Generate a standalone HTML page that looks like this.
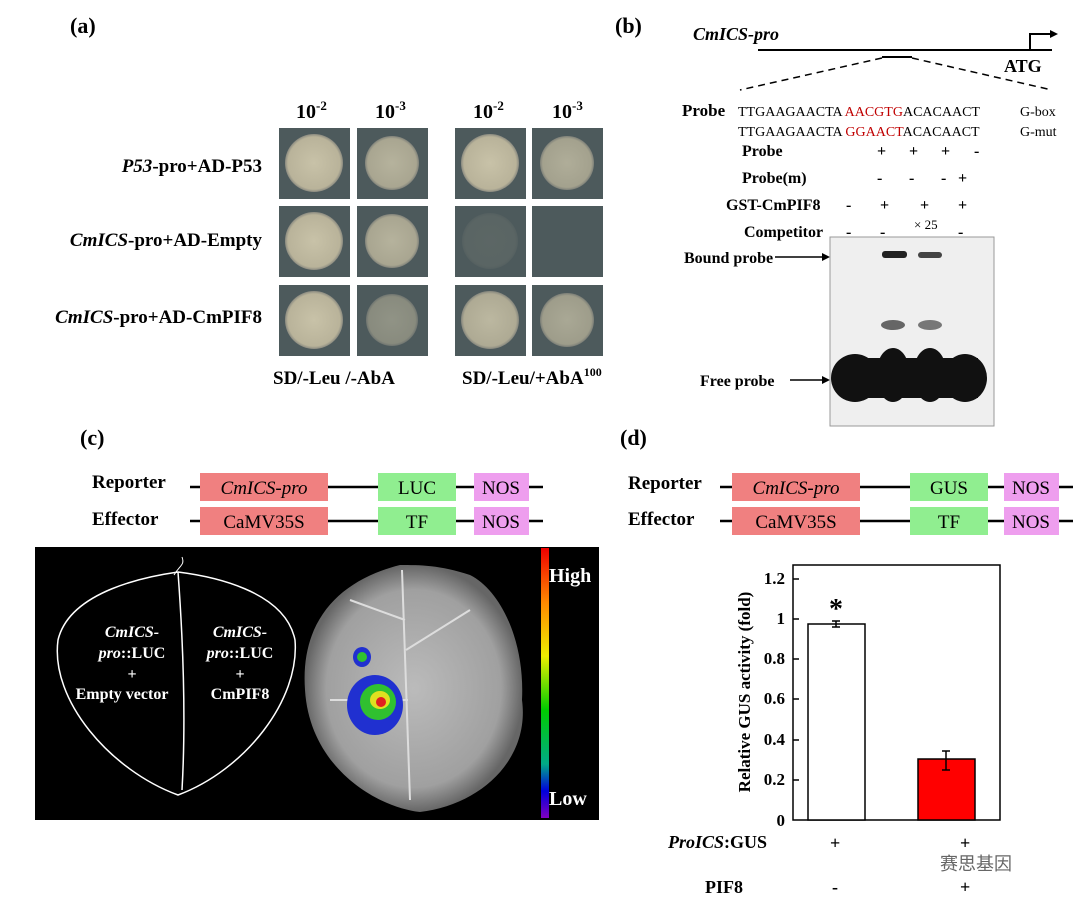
<!DOCTYPE html>
<html><head><meta charset="utf-8"><style>
body{margin:0;background:#fff}
svg{display:block}
text{font-family:"Liberation Serif",serif;font-weight:bold;fill:#000}
.w{fill:#fff}
</style></head><body>
<svg width="1080" height="912" viewBox="0 0 1080 912" xmlns="http://www.w3.org/2000/svg">
<defs>
<linearGradient id="cb" x1="0" y1="0" x2="0" y2="1">
<stop offset="0" stop-color="#e00"/><stop offset="0.2" stop-color="#f80"/><stop offset="0.4" stop-color="#ee0"/><stop offset="0.6" stop-color="#0c0"/><stop offset="0.8" stop-color="#0a8"/><stop offset="0.9" stop-color="#00d"/><stop offset="1" stop-color="#8000c0"/>
</linearGradient>
<radialGradient id="sp" cx="0.5" cy="0.5" r="0.5"><stop offset="0" stop-color="#c8c2a8"/><stop offset="0.9" stop-color="#b9b39a"/><stop offset="1" stop-color="#8a8a80"/></radialGradient>
<radialGradient id="lf" cx="0.5" cy="0.5" r="0.5"><stop offset="0" stop-color="#bbb"/><stop offset="0.8" stop-color="#a0a0a0"/><stop offset="1" stop-color="#666"/></radialGradient>
</defs>
<!-- panel a -->
<text x="70" y="33" font-size="22">(a)</text>
<g font-size="20"><text x="296" y="118">10<tspan font-size="13" dy="-8">-2</tspan></text>
<text x="375" y="118">10<tspan font-size="13" dy="-8">-3</tspan></text>
<text x="473" y="118">10<tspan font-size="13" dy="-8">-2</tspan></text>
<text x="552" y="118">10<tspan font-size="13" dy="-8">-3</tspan></text></g>
<g font-size="19" text-anchor="end">
<text x="262" y="172"><tspan font-style="italic">P53</tspan>-pro+AD-P53</text>
<text x="262" y="246"><tspan font-style="italic">CmICS</tspan>-pro+AD-Empty</text>
<text x="262" y="323"><tspan font-style="italic">CmICS</tspan>-pro+AD-CmPIF8</text></g>
<g fill="#4d5a5c">
<rect x="279" y="128" width="71" height="71"/><rect x="357" y="128" width="71" height="71"/><rect x="455" y="128" width="71" height="71"/><rect x="532" y="128" width="71" height="71"/>
<rect x="279" y="206" width="71" height="71"/><rect x="357" y="206" width="71" height="71"/><rect x="455" y="206" width="71" height="71"/><rect x="532" y="206" width="71" height="71"/>
<rect x="279" y="285" width="71" height="71"/><rect x="357" y="285" width="71" height="71"/><rect x="455" y="285" width="71" height="71"/><rect x="532" y="285" width="71" height="71"/>
</g>
<g fill="url(#sp)">
<circle cx="314" cy="163" r="29"/><circle cx="392" cy="163" r="27" opacity="0.85"/><circle cx="490" cy="163" r="29"/><circle cx="567" cy="163" r="27" opacity="0.8"/>
<circle cx="314" cy="241" r="29"/><circle cx="392" cy="241" r="27" opacity="0.85"/><circle cx="490" cy="241" r="28" opacity="0.12"/>
<circle cx="314" cy="320" r="29"/><circle cx="392" cy="320" r="26" opacity="0.55"/><circle cx="490" cy="320" r="29" opacity="0.9"/><circle cx="567" cy="320" r="27" opacity="0.75"/>
</g>
<text x="273" y="384" font-size="19">SD/-Leu /-AbA</text>
<text x="462" y="384" font-size="19">SD/-Leu/+AbA<tspan font-size="12" dy="-8">100</tspan></text>
<!-- panel b -->
<text x="615" y="33" font-size="22">(b)</text>
<text x="693" y="40" font-size="18" font-style="italic">CmICS-pro</text>
<line x1="758" y1="50" x2="1052" y2="50" stroke="#000" stroke-width="2"/>
<line x1="882" y1="57" x2="912" y2="57" stroke="#000" stroke-width="2"/>
<path d="M1030 50 V34 H1052" fill="none" stroke="#000" stroke-width="2"/><path d="M1050 30 L1058 34 L1050 38Z"/>
<text x="1004" y="72" font-size="18">ATG</text>
<line x1="882" y1="58" x2="740" y2="90" stroke="#000" stroke-width="1.5" stroke-dasharray="7,5"/>
<line x1="912" y1="58" x2="1052" y2="90" stroke="#000" stroke-width="1.5" stroke-dasharray="7,5"/>
<text x="682" y="116" font-size="17">Probe</text>
<g font-size="14">
<text x="738" y="116" style="font-weight:normal">TTGAAGAACTA <tspan style="fill:#c00000">AACGTG</tspan>ACACAACT</text>
<text x="738" y="136" style="font-weight:normal">TTGAAGAACTA <tspan style="fill:#c00000">GGAACT</tspan>ACACAACT</text>
<text x="1020" y="116" style="font-weight:normal">G-box</text><text x="1020" y="136" style="font-weight:normal">G-mut</text></g>
<g font-size="16">
<text x="742" y="156">Probe</text><text x="742" y="183">Probe(m)</text><text x="726" y="210">GST-CmPIF8</text><text x="744" y="237">Competitor</text>
<text x="877" y="156">+</text><text x="909" y="156">+</text><text x="941" y="156">+</text><text x="974" y="156">-</text>
<text x="877" y="183">-</text><text x="909" y="183">-</text><text x="941" y="183">-</text><text x="958" y="183">+</text>
<text x="846" y="210">-</text><text x="880" y="210">+</text><text x="920" y="210">+</text><text x="958" y="210">+</text>
<text x="846" y="237">-</text><text x="880" y="237">-</text><text x="914" y="229" font-size="13" style="font-weight:normal">× 25</text><text x="958" y="237">-</text>
<text x="684" y="263">Bound probe</text><text x="700" y="386">Free probe</text></g>
<line x1="775" y1="257" x2="825" y2="257" stroke="#000" stroke-width="1.5"/><path d="M830 257 L822 253 L822 261Z"/>
<line x1="790" y1="380" x2="825" y2="380" stroke="#000" stroke-width="1.5"/><path d="M830 380 L822 376 L822 384Z"/>
<rect x="830" y="237" width="164" height="189" fill="#efefef" stroke="#999"/>
<rect x="882" y="251" width="25" height="7" rx="3" fill="#222"/><rect x="918" y="252" width="24" height="6" rx="3" fill="#444"/>
<g fill="#111">
<ellipse cx="855" cy="378" rx="24" ry="24"/><ellipse cx="893" cy="375" rx="17" ry="27"/><ellipse cx="930" cy="375" rx="17" ry="27"/><ellipse cx="965" cy="378" rx="22" ry="24"/>
<rect x="848" y="358" width="130" height="40"/></g>
<ellipse cx="893" cy="325" rx="12" ry="5" fill="#666"/><ellipse cx="930" cy="325" rx="12" ry="5" fill="#777"/>
<!-- panel c -->
<text x="80" y="445" font-size="22">(c)</text>
<g font-size="19">
<text x="92" y="488">Reporter</text><text x="92" y="525">Effector</text>
<line x1="190" y1="487" x2="543" y2="487" stroke="#000" stroke-width="2.5"/><line x1="190" y1="521" x2="543" y2="521" stroke="#000" stroke-width="2.5"/>
<rect x="200" y="473" width="128" height="28" fill="#f08080"/><rect x="378" y="473" width="78" height="28" fill="#90ee90"/><rect x="474" y="473" width="55" height="28" fill="#ee9eee"/>
<rect x="200" y="507" width="128" height="28" fill="#f08080"/><rect x="378" y="507" width="78" height="28" fill="#90ee90"/><rect x="474" y="507" width="55" height="28" fill="#ee9eee"/>
<text x="264" y="494" text-anchor="middle" font-style="italic" style="font-weight:normal">CmICS-pro</text><text x="417" y="494" text-anchor="middle" style="font-weight:normal">LUC</text><text x="501" y="494" text-anchor="middle" style="font-weight:normal">NOS</text>
<text x="264" y="528" text-anchor="middle" style="font-weight:normal">CaMV35S</text><text x="417" y="528" text-anchor="middle" style="font-weight:normal">TF</text><text x="501" y="528" text-anchor="middle" style="font-weight:normal">NOS</text></g>
<rect x="35" y="547" width="564" height="273" fill="#000"/>
<path d="M178 572 C150 576 70 590 58 640 C50 700 110 770 178 795 C245 770 300 700 295 640 C285 590 210 576 178 572Z" fill="none" stroke="#fff" stroke-width="1.5"/>
<path d="M178 572 C183 640 186 720 182 790" stroke="#fff" stroke-width="1.5" fill="none"/><path d="M174 575 C180 565 185 565 182 557" stroke="#fff" fill="none"/>
<g font-size="16" text-anchor="middle">
<text x="132" y="637" class="w" font-style="italic">CmICS-</text><text x="132" y="658" class="w"><tspan font-style="italic">pro</tspan>::LUC</text><text x="132" y="679" class="w">+</text><text x="122" y="699" class="w">Empty vector</text>
<text x="240" y="637" class="w" font-style="italic">CmICS-</text><text x="240" y="658" class="w"><tspan font-style="italic">pro</tspan>::LUC</text><text x="240" y="679" class="w">+</text><text x="240" y="699" class="w">CmPIF8</text></g>
<path d="M400 565 C340 580 300 620 305 690 C310 770 380 808 420 812 C480 805 530 760 522 700 C525 640 500 590 470 575 C440 565 420 565 400 565Z" fill="url(#lf)"/>
<path d="M402 570 L410 800 M405 620 L350 600 M406 650 L470 610 M408 700 L330 700" stroke="#ddd" stroke-width="2" fill="none"/>
<ellipse cx="375" cy="705" rx="28" ry="30" fill="#2030d0"/><ellipse cx="378" cy="702" rx="18" ry="18" fill="#30c030"/><ellipse cx="380" cy="700" rx="10" ry="9" fill="#e0e020"/><ellipse cx="381" cy="702" rx="5" ry="5" fill="#e02020"/>
<ellipse cx="362" cy="657" rx="9" ry="10" fill="#2030d0"/><ellipse cx="362" cy="657" rx="5" ry="5" fill="#30c030"/>
<rect x="541" y="548" width="8" height="270" fill="url(#cb)"/>
<text x="549" y="582" font-size="20" class="w">High</text><text x="549" y="805" font-size="20" class="w">Low</text>
<!-- panel d -->
<text x="620" y="445" font-size="22">(d)</text>
<g font-size="19">
<text x="628" y="489">Reporter</text><text x="628" y="525">Effector</text>
<line x1="720" y1="487" x2="1073" y2="487" stroke="#000" stroke-width="2.5"/><line x1="720" y1="521" x2="1073" y2="521" stroke="#000" stroke-width="2.5"/>
<rect x="732" y="473" width="128" height="28" fill="#f08080"/><rect x="910" y="473" width="78" height="28" fill="#90ee90"/><rect x="1004" y="473" width="55" height="28" fill="#ee9eee"/>
<rect x="732" y="507" width="128" height="28" fill="#f08080"/><rect x="910" y="507" width="78" height="28" fill="#90ee90"/><rect x="1004" y="507" width="55" height="28" fill="#ee9eee"/>
<text x="796" y="494" text-anchor="middle" font-style="italic" style="font-weight:normal">CmICS-pro</text><text x="949" y="494" text-anchor="middle" style="font-weight:normal">GUS</text><text x="1031" y="494" text-anchor="middle" style="font-weight:normal">NOS</text>
<text x="796" y="528" text-anchor="middle" style="font-weight:normal">CaMV35S</text><text x="949" y="528" text-anchor="middle" style="font-weight:normal">TF</text><text x="1031" y="528" text-anchor="middle" style="font-weight:normal">NOS</text></g>
<rect x="793" y="565" width="207" height="255" fill="none" stroke="#000" stroke-width="1.5"/>
<g font-size="17" text-anchor="end">
<text x="785" y="826">0</text><text x="785" y="785">0.2</text><text x="785" y="745">0.4</text><text x="785" y="704">0.6</text><text x="785" y="664">0.8</text><text x="785" y="624">1</text><text x="785" y="584">1.2</text></g>
<g stroke="#000" stroke-width="1.5"><line x1="793" y1="780" x2="799" y2="780"/><line x1="793" y1="740" x2="799" y2="740"/><line x1="793" y1="699" x2="799" y2="699"/><line x1="793" y1="659" x2="799" y2="659"/><line x1="793" y1="619" x2="799" y2="619"/><line x1="793" y1="579" x2="799" y2="579"/></g>
<text transform="translate(750 692) rotate(-90)" font-size="17" text-anchor="middle">Relative GUS activity (fold)</text>
<rect x="808" y="624" width="57" height="196" fill="#fff" stroke="#000" stroke-width="1.5"/>
<rect x="918" y="759" width="57" height="61" fill="#f00" stroke="#000" stroke-width="1.5"/>
<g stroke="#000" stroke-width="1.5"><line x1="836" y1="621" x2="836" y2="627"/><line x1="832" y1="621" x2="840" y2="621"/><line x1="832" y1="627" x2="840" y2="627"/>
<line x1="946" y1="751" x2="946" y2="770"/><line x1="942" y1="751" x2="950" y2="751"/><line x1="942" y1="770" x2="950" y2="770"/></g>
<text x="836" y="618" font-size="28" text-anchor="middle">*</text>
<g font-size="18"><text x="668" y="848"><tspan font-style="italic">ProICS</tspan>:GUS</text><text x="705" y="893">PIF8</text>
<text x="830" y="849">+</text><text x="960" y="849">+</text><text x="832" y="893">-</text><text x="960" y="893">+</text></g>
<text x="940" y="870" font-size="18" style="font-weight:normal;fill:#666;font-family:'Noto Sans CJK SC',sans-serif">赛思基因</text>
</svg>
</body></html>
